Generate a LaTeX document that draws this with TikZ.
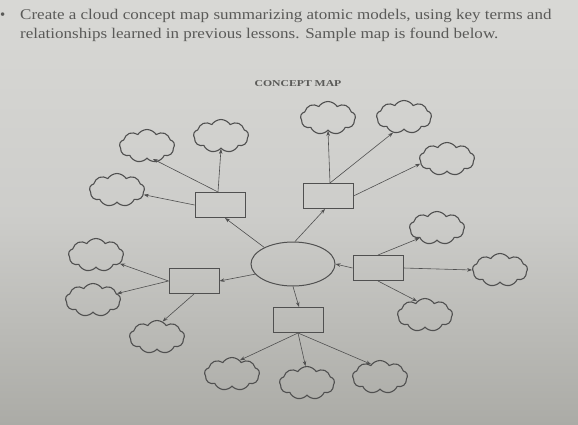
\documentclass[tikz,border=0pt]{standalone}
\usepackage{fontspec}
\setmainfont{Liberation Serif}
\usetikzlibrary{shapes.geometric,shapes.symbols,arrows.meta,calc}
\definecolor{paper}{HTML}{D8D8D5}
\definecolor{paperdark}{HTML}{ABABA6}
\definecolor{ink}{HTML}{505050}
\definecolor{txt}{HTML}{5A5A58}
\tikzset{
  conn/.style={draw=ink, line width=0.6pt, -{Stealth[length=5pt,width=3.6pt]}},
  box/.style={draw=ink, line width=1pt, rectangle, minimum width=50pt, minimum height=25pt, inner sep=0pt},
  cld/.style={draw=ink, line width=1.1pt, cloud, cloud puffs=9, cloud puff arc=115, aspect=1.7, minimum width=55pt, minimum height=33pt, inner sep=0pt},
  center/.style={draw=ink, line width=1pt, ellipse, minimum width=84pt, minimum height=44pt, inner sep=0pt},
  hdr/.style={text=txt, anchor=west, inner sep=0pt, font=\fontsize{14.8}{17}\selectfont}
}
\begin{document}
\begin{tikzpicture}[x=1pt,y=-1pt]
\useasboundingbox (0,0) rectangle (578,425);
\shade[top color=paper, bottom color=paperdark, middle color=paper!95!black] (0,0) rectangle (578,425);
% header
\node[hdr] (bul) at (0,16) {\textbullet};
\node[hdr] (l1) at (20,16) {\scalebox{1.15}[1]{Create a cloud concept map summarizing atomic models, using key terms and}};
\node[hdr] (l2) at (20,35) {\scalebox{1.15}[1]{relationships learned in previous lessons. Sample map is found below.}};
\node[text=txt, font=\fontsize{9}{10}\selectfont\bfseries, inner sep=0pt] (title) at (298,84) {\scalebox{1.3}[1]{CONCEPT MAP}};
% central concept and boxes
\node[center] (ell) at (293,264) {};
\node[box] (b1) at (220,205) {};
\node[box] (b2) at (328,196) {};
\node[box] (b3) at (194,281) {};
\node[box] (b4) at (378,268) {};
\node[box] (b5) at (298,320) {};
% clouds
\node[cld] (cA) at (147,146) {};
\node[cld] (cB) at (221,136) {};
\node[cld] (cC) at (117,190) {};
\node[cld] (cD) at (328,118) {};
\node[cld] (cE) at (404,117) {};
\node[cld] (cF) at (447,159) {};
\node[cld] (cG) at (96,255) {};
\node[cld] (cH) at (93,300) {};
\node[cld] (cI) at (157,337) {};
\node[cld] (cJ) at (437,228) {};
\node[cld] (cK) at (500,270) {};
\node[cld] (cL) at (425,315) {};
\node[cld] (cM) at (232,374) {};
\node[cld] (cN) at (307,383) {};
\node[cld] (cO) at (380,377) {};
% connectors from the central ellipse
\draw[conn] (ell.150) -- ($(b1.south)+(5,0)$);
\draw[conn] (ell.85) -- ($(b2.south)+(-3,0)$);
\draw[conn] (ell.195) -- (b3.east);
\draw[conn] (b4.west) -- (ell.east);
\draw[conn] (ell.south) -- ($(b5.north)+(1,0)$);
% upper-left box
\coordinate (b1t) at ($(b1.north)+(-2,0)$);
\draw[conn] (b1t) -- ($(cA.south)+(6,0)$);
\draw[conn] (b1t) -- (cB.south);
\draw[conn] (b1.west) -- (cC.-10);
% upper-middle box
\coordinate (b2t) at ($(b2.north)+(2,0)$);
\draw[conn] (b2t) -- (cD.south);
\draw[conn] (b2t) -- (cE.-125);
\draw[conn] (b2.east) -- (cF.190);
% left box
\draw[conn] (b3.west) -- (cG.-20);
\draw[conn] (b3.west) -- (cH.15);
\draw[conn] (b3.south) -- (cI.70);
% right box
\draw[conn] (b4.north) -- (cJ.-150);
\draw[conn] (b4.east) -- (cK.west);
\draw[conn] (b4.south) -- (cL.120);
% bottom box
\draw[conn] (b5.south) -- (cM.60);
\draw[conn] (b5.south) -- (cN.95);
\draw[conn] (b5.south) -- (cO.125);
\end{tikzpicture}
\end{document}
